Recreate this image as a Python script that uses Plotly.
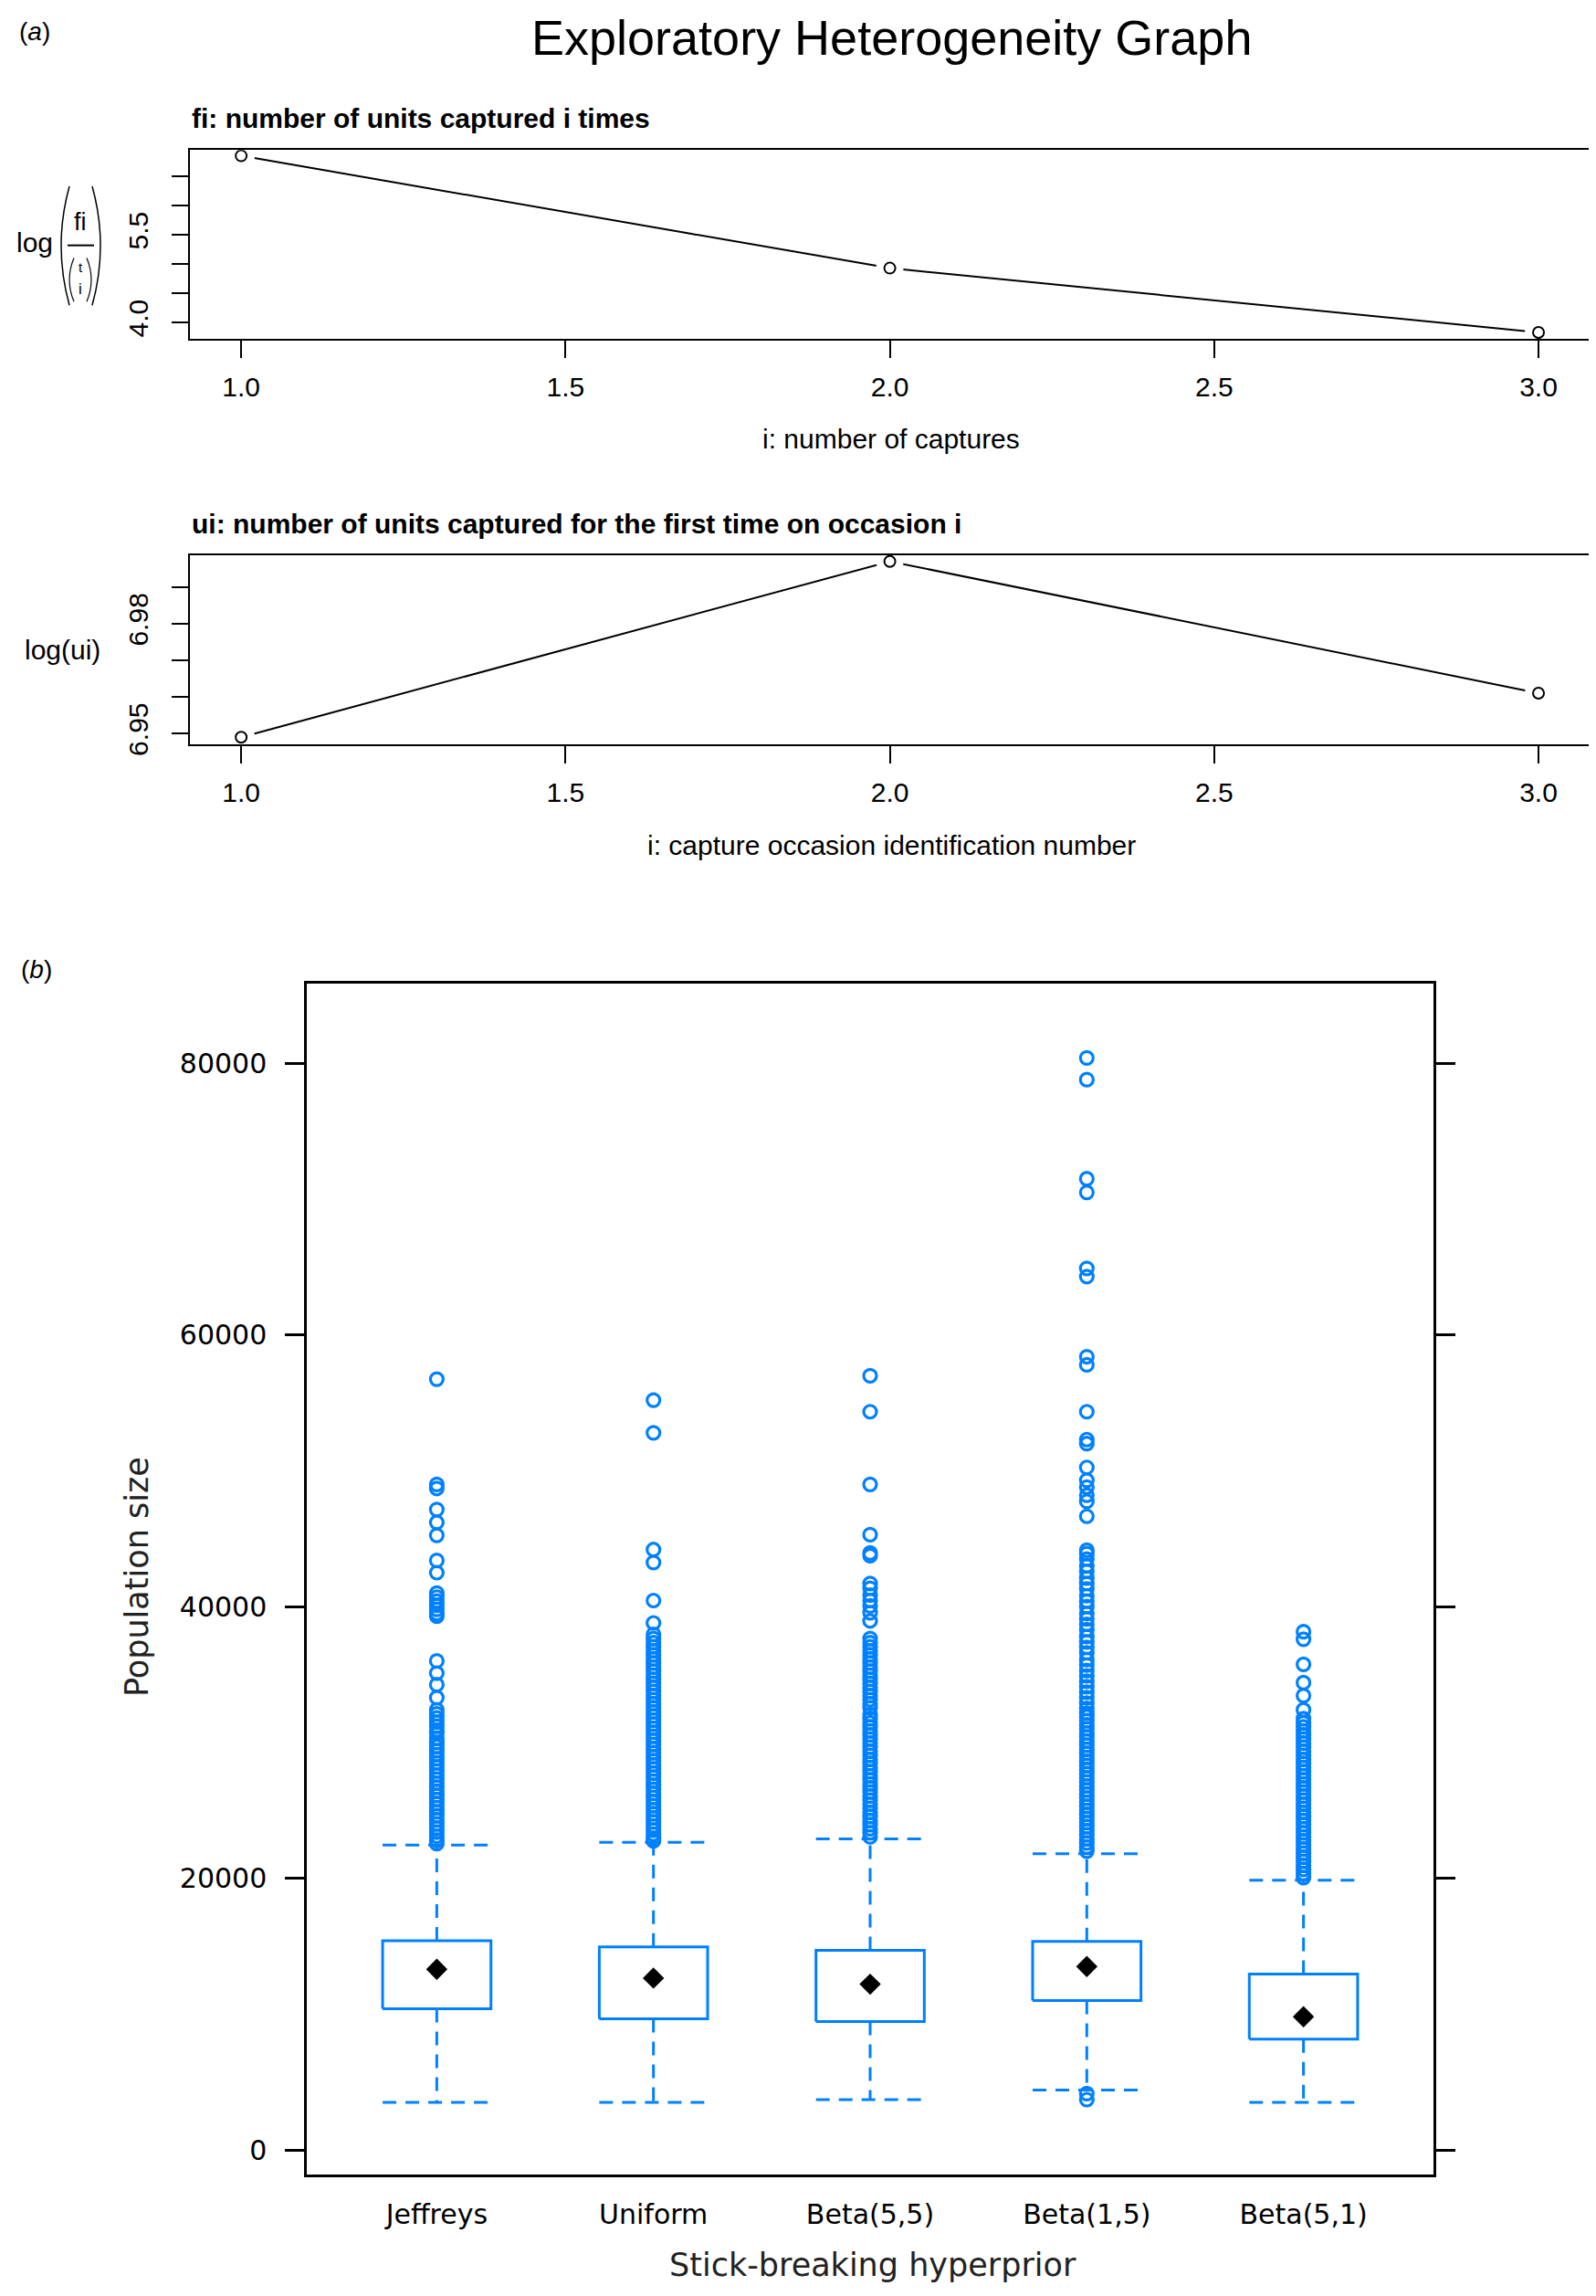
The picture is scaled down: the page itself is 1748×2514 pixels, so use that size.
import plotly.graph_objects as go

W, H = 1748, 2514

# panel (a), top: log(fi / C(t, i)) against number of captures
capt_i = [1, 2, 3]
log_fi = [6.85, 4.93, 3.83]

# panel (a), bottom: log(ui) against capture occasion
occ_i = [1, 2, 3]
log_ui = [6.949, 6.997, 6.961]

a_xticks = [1.0, 1.5, 2.0, 2.5, 3.0]
a_xlabels = ["1.0", "1.5", "2.0", "2.5", "3.0"]
fi_yticks = [4.0, 4.5, 5.0, 5.5, 6.0, 6.5]
fi_ylabels = ["4.0", "", "", "5.5", "", ""]
ui_yticks = [6.95, 6.96, 6.97, 6.98, 6.99]
ui_ylabels = ["6.95", "", "", "6.98", ""]

# panel (b): posterior population size by stick-breaking hyperprior
priors = ["Jeffreys", "Uniform", "Beta(5,5)", "Beta(1,5)", "Beta(5,1)"]
lower_whisker = [3500, 3500, 3700, 4400, 3500]
q1 = [10400, 9650, 9450, 11000, 8150]
median = [13300, 12650, 12200, 13500, 9800]
q3 = [15400, 14950, 14700, 15350, 12950]
upper_whisker = [22450, 22650, 22900, 21800, 19850]

out_jeffreys = [56750, 49000, 48700, 47150, 46200, 45250, 43400, 42500,
                41000, 40700, 40400, 40100, 39800, 39500, 39300,
                36000, 35100, 34250, 33300,
                32400, 32100, 31800, 31500, 31200, 30900, 30700, 30300, 30000,
                29700, 29400, 29100, 28800, 28500, 28200, 27900, 27600, 27300,
                27000, 26700, 26400, 26100, 25800, 25500, 25200, 24900, 24600,
                24300, 24000, 23700, 23400, 23100, 22800, 22550]
out_uniform = [55200, 52800, 44200, 43250, 40450, 38800,
               37950, 37650, 37350, 37050, 36750, 36450, 36150, 35850, 35550,
               35250, 34950, 34650, 34350, 34050, 33750, 33450, 33150, 32850,
               32550, 32250, 31950, 31650, 31350, 31050, 30750, 30450, 30150,
               29850, 29550, 29250, 28950, 28650, 28350, 28050, 27750, 27450,
               27150, 26850, 26550, 26250, 25950, 25650, 25350, 25050, 24750,
               24450, 24150, 23850, 23550, 23250, 22950, 22750]
out_beta55 = [57000, 54350, 49000, 45300, 43950, 43750,
              41700, 41350, 40850, 40450, 40050, 39550, 38950,
              37650, 37350, 37050, 36750, 36450, 36150, 35850, 35550, 35250,
              34950, 34650, 34350, 34050, 33750, 33450, 33150, 32850, 32550,
              32050, 31750, 31450, 31150, 30850, 30550, 30250, 29950, 29650,
              29350, 29050, 28750, 28450, 28150, 27850, 27550, 27250, 26950,
              26650, 26350, 26050, 25750, 25450, 25150, 24850, 24550, 24250,
              23950, 23650, 23350, 23050]
out_beta15 = [80400, 78800, 71500, 70500, 64900, 64300, 58400, 57800, 54350,
              52300, 52000, 50250, 49300, 48800, 48200, 47750, 46650, 44150,
              43900, 43500, 43000, 42600, 42100, 41700, 41300, 40800, 40400,
              40000, 39500, 39100, 38700, 38300, 37800, 37400, 37000, 36600,
              36100, 35700, 35300, 34900, 34500, 34100, 33700, 33300, 32900,
              32500, 32150,
              31900, 31600, 31300, 31000, 30700, 30400, 30100, 29800, 29500,
              29200, 28900, 28600, 28300, 28000, 27700, 27400, 27100, 26800,
              26500, 26200, 25900, 25600, 25300, 25000, 24700, 24400, 24100,
              23800, 23500, 23200, 22900, 22600, 22300, 22000,
              4150, 3700]
out_beta51 = [38150, 37600, 35750, 34400, 33450, 32400,
              31750, 31450, 31150, 30850, 30550, 30250, 29950, 29650, 29350,
              29050, 28750, 28450, 28150, 27850, 27550, 27250, 26950, 26650,
              26350, 26050, 25750, 25450, 25150, 24850, 24550, 24250, 23950,
              23650, 23350, 23050, 22750, 22450, 22150, 21850, 21550, 21250,
              20950, 20650, 20350, 20050]
outliers = [out_jeffreys, out_uniform, out_beta55, out_beta15, out_beta51]

b_yticks = [0, 20000, 40000, 60000, 80000]
b_ylabels = ["0", "20000", "40000", "60000", "80000"]

BLUE = "#0080ff"
ARIAL = "Liberation Sans"
LAT = "DejaVu Sans"


def px(x):
    return x / W


def py(y):
    return 1 - y / H


fig = go.Figure()

# ---- panel (a): the two exploratory line plots (type "b")
for xs, ys, xa, ya in [(capt_i, log_fi, "x", "y"), (occ_i, log_ui, "x2", "y2")]:
    fig.add_trace(go.Scatter(x=xs, y=ys, mode="lines", xaxis=xa, yaxis=ya,
                             line=dict(color="black", width=2)))
    fig.add_trace(go.Scatter(x=xs, y=ys, mode="markers", xaxis=xa, yaxis=ya,
                             marker=dict(size=30, color="white")))
    fig.add_trace(go.Scatter(x=xs, y=ys, mode="markers", xaxis=xa, yaxis=ya,
                             marker=dict(size=12, symbol="circle-open", color="black",
                                         line=dict(width=2, color="black"))))

# ---- panel (b): lattice-style box and whisker plot
hw = 0.25
for i, name in enumerate(priors):
    c = i + 1
    fig.add_trace(go.Scatter(
        x=[c - hw, c + hw, c + hw, c - hw, c - hw],
        y=[q1[i], q1[i], q3[i], q3[i], q1[i]],
        mode="lines", xaxis="x3", yaxis="y3",
        line=dict(color=BLUE, width=3)))
    fig.add_trace(go.Scatter(
        x=[c, c, None, c, c, None, c - hw, c + hw, None, c - hw, c + hw],
        y=[q3[i], upper_whisker[i], None, q1[i], lower_whisker[i], None,
           upper_whisker[i], upper_whisker[i], None, lower_whisker[i], lower_whisker[i]],
        mode="lines", xaxis="x3", yaxis="y3",
        line=dict(color=BLUE, width=3, dash="15px,10px")))

for i, pts in enumerate(outliers):
    fig.add_trace(go.Scatter(
        x=[i + 1] * len(pts), y=pts, mode="markers", xaxis="x3", yaxis="y3",
        marker=dict(size=14, symbol="circle-open", color=BLUE,
                    line=dict(width=3.2, color=BLUE))))

fig.add_trace(go.Scatter(
    x=list(range(1, len(priors) + 1)), y=median, mode="markers",
    xaxis="x3", yaxis="y3",
    marker=dict(size=18, symbol="diamond", color="black")))

a_axis = dict(showline=True, mirror=True, linecolor="black", linewidth=2,
              showgrid=False, zeroline=False, ticks="outside", tickwidth=2,
              tickcolor="black", tickfont=dict(family=ARIAL, size=30, color="black"))

fig.update_layout(
    width=W, height=H, margin=dict(l=0, r=0, t=0, b=0),
    plot_bgcolor="white", paper_bgcolor="white", showlegend=False,
    xaxis=dict(a_axis, domain=[px(200), px(1736)], range=[0.921, 3.083],
               tickvals=a_xticks, ticktext=a_xlabels, ticklen=19,
               ticklabelstandoff=6, anchor="y"),
    yaxis=dict(a_axis, domain=[py(365), py(157)], range=[3.72, 6.95],
               tickvals=fi_yticks, ticktext=fi_ylabels, ticklen=18,
               tickangle=-90, ticklabelstandoff=14, anchor="x"),
    xaxis2=dict(a_axis, domain=[px(200), px(1736)], range=[0.921, 3.083],
                tickvals=a_xticks, ticktext=a_xlabels, ticklen=19,
                ticklabelstandoff=6, anchor="y2"),
    yaxis2=dict(a_axis, domain=[py(811), py(603)], range=[6.9471, 6.9987],
                tickvals=ui_yticks, ticktext=ui_ylabels, ticklen=18,
                tickangle=-90, ticklabelstandoff=14, anchor="x2"),
    xaxis3=dict(domain=[px(328), px(1562)], range=[0.4, 5.6],
                tickvals=list(range(1, len(priors) + 1)), ticktext=priors,
                ticks="", showline=True, mirror=True, linecolor="black",
                linewidth=2.5, showgrid=False, zeroline=False,
                ticklabelstandoff=16,
                tickfont=dict(family=LAT, size=30, color="black"), anchor="y3"),
    yaxis3=dict(domain=[py(2385), py(1075)], range=[-1790, 85840],
                tickvals=b_yticks, ticktext=b_ylabels, ticks="outside",
                ticklen=21, tickwidth=2.5,
                tickcolor="black", showline=True, mirror="allticks",
                linecolor="black", linewidth=2.5, showgrid=False,
                zeroline=False, ticklabelstandoff=14,
                tickfont=dict(family=LAT, size=30, color="black"), anchor="x3"),
)


def text(t, x, y, size, family=ARIAL, xanchor="center", angle=0, color="black",
         yanchor="middle"):
    fig.add_annotation(text=t, x=px(x), y=py(y), xref="paper", yref="paper",
                       xanchor=xanchor, yanchor=yanchor, showarrow=False,
                       textangle=angle, font=dict(family=family, size=size, color=color))


text("Exploratory Heterogeneity Graph", 968, 1, 54, yanchor="top")
text("(<i>a</i>)", 30, 27, 28)
text("(<i>b</i>)", 32, 1059, 28)
text("<b>fi: number of units captured i times</b>", 200, 122, 30, xanchor="left")
text("<b>ui: number of units captured for the first time on occasion i</b>", 200, 568, 30,
     xanchor="left")
text("i: number of captures", 968, 475, 30)
text("i: capture occasion identification number", 968, 922, 30)
text("log(ui)", 60, 707, 30)
text("log", 30, 259, 30)
text("fi", 80, 236, 27)
text("t", 80, 286, 15)
text("i", 80, 310, 17)
text("Population size", 142, 1728, 35, family=LAT, angle=-90, color="#222222")
text("Stick-breaking hyperprior", 948, 2485, 35, family=LAT, color="#222222")


def curve(p0, c, p1, width=1.5):
    path = "M {},{} Q {},{} {},{}".format(px(p0[0]), py(p0[1]), px(c[0]), py(c[1]),
                                          px(p1[0]), py(p1[1]))
    fig.add_shape(type="path", path=path, xref="paper", yref="paper",
                  line=dict(color="black", width=width))


# parentheses and fraction bar of the binomial y label
curve((68, 197), (50, 262), (68, 328))
curve((93, 197), (111, 262), (93, 328))
curve((73, 276), (63, 300), (73, 324), width=1.2)
curve((87, 276), (97, 300), (87, 324), width=1.2)
fig.add_shape(type="line", x0=px(66), x1=px(95), y0=py(262), y1=py(262),
              xref="paper", yref="paper", line=dict(color="black", width=2))

fig.write_html("out.html")
